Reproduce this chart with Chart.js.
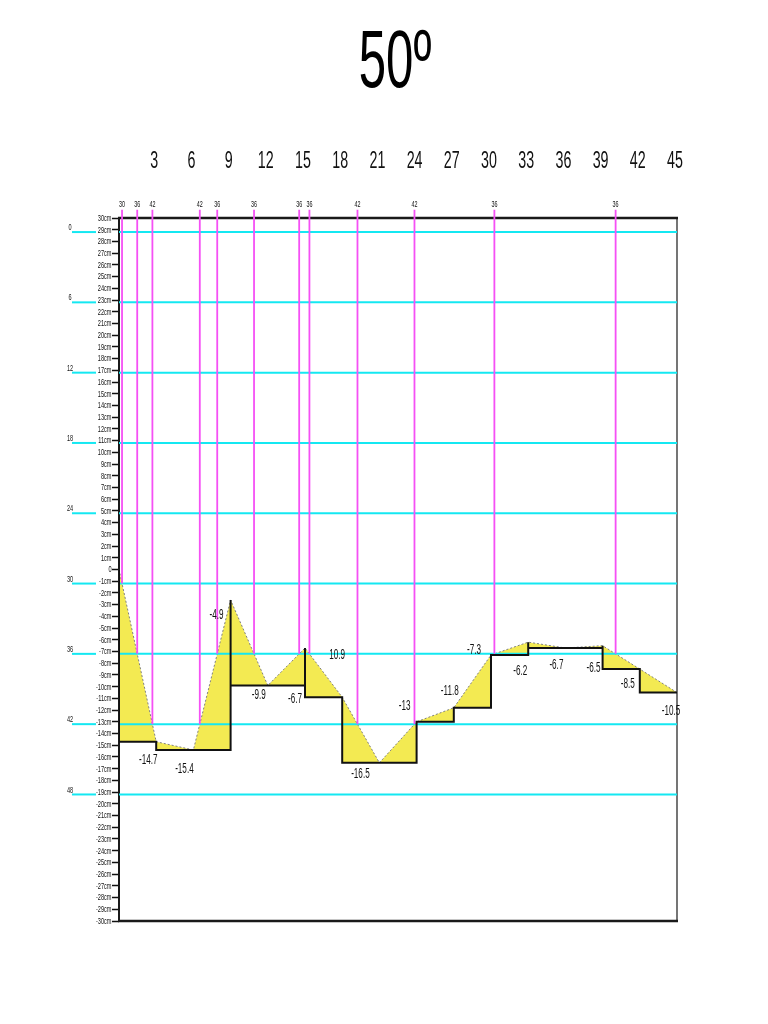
<!DOCTYPE html>
<html><head><meta charset="utf-8">
<script src="https://cdn.jsdelivr.net/npm/chart.js@4/dist/chart.umd.min.js"></script>
<style>html,body{margin:0;padding:0;background:#fff}canvas{display:block}</style>
</head><body>
<canvas id="c" width="768" height="1024"></canvas>
<script>
// ---------- data ----------
const distances = [0, 3, 6, 9, 12, 15, 18, 21, 24, 27, 30, 33, 36, 39, 42, 45];
const heights = [0, -14.7, -15.4, -2.6, -9.9, -6.7, -10.9, -16.5, -13, -11.8, -7.3, -6.2, -6.7, -6.5, -8.5, -10.5];
const valueLabels = ['-14.7', '-15.4', '-4.9', '-9.9', '-6.7', '10.9', '-16.5', '-13', '-11.8', '-7.3', '-6.2', '-6.7', '-6.5', '-8.5', '-10.5'];
const topTickLabels = ['3', '6', '9', '12', '15', '18', '21', '24', '27', '30', '33', '36', '39', '42', '45'];
const depthLevels = [0, 6, 12, 18, 24, 30, 36, 42, 48];
const depthZeroCm = 28.8;
const cmMin = -30, cmMax = 30;
const titleText = '50º';

// ---------- style ----------
const labelOffsets = [[-8, 18], [-9, 19], [-14, 15], [-9, 10], [-10, 51], [-5, -42], [-19, 11], [-12, -16], [-4, -17], [-17, -5], [-8, 29], [-9, 17], [-9, 22], [-12, 15], [-6, 19]];
const YELLOW = 'rgb(243,234,82)';
const CYAN = 'rgb(20,232,242)';
const MAGENTA = 'rgb(245,80,245)';
const FONT = '"Liberation Sans", Arial, sans-serif';
const magentaTopCm = 30.7;

// ---------- derived geometry (from data) ----------
const segLevels = heights.map((v, i) => i === 0 ? v : Math.min(heights[i - 1], v));
const outline = [{x: distances[0], y: heights[0]}];
for (let i = 1; i < distances.length; i++) {
  outline.push({x: distances[i - 1], y: segLevels[i]});
  outline.push({x: distances[i], y: segLevels[i]});
  outline.push({x: distances[i], y: heights[i]});
}
const crossings = [];
for (let i = 1; i < heights.length; i++) {
  const a = heights[i - 1], b = heights[i];
  depthLevels.forEach(d => {
    const lv = depthZeroCm - d;
    if ((a - lv) * (b - lv) < 0) {
      const t = (a - lv) / (a - b);
      crossings.push({x: distances[i - 1] + t * (distances[i] - distances[i - 1]), y: lv, d});
    }
  });
}

const datasets = [];
datasets.push({
  label: 'slope', data: distances.map((x, i) => ({x, y: heights[i]})),
  borderColor: '#808080', borderWidth: 1, borderDash: [2, 2],
  backgroundColor: YELLOW, fill: 1, order: 5, pointRadius: 0, tension: 0
});
datasets.push({
  label: 'steps', data: outline, borderColor: '#111', borderWidth: 2,
  fill: false, order: 0, pointRadius: 0, tension: 0
});
depthLevels.forEach(d => datasets.push({
  label: 'depth ' + d, data: [{x: distances[0], y: depthZeroCm - d}, {x: distances[distances.length - 1], y: depthZeroCm - d}],
  borderColor: CYAN, borderWidth: 2, fill: false, order: 2, pointRadius: 0
}));
crossings.forEach(c => datasets.push({
  label: 'cross ' + c.d, data: [{x: c.x, y: magentaTopCm}, {x: c.x, y: c.y}],
  borderColor: MAGENTA, borderWidth: 1.8, fill: false, order: 1, pointRadius: 0, clip: false
}));

function condText(ctx, text, x, y, size, sx, align, baseline, color) {
  ctx.save();
  ctx.font = size + 'px ' + FONT;
  ctx.fillStyle = color || '#111';
  ctx.textAlign = align; ctx.textBaseline = baseline;
  ctx.translate(x, y); ctx.scale(sx, 1);
  ctx.fillText(text, 0, 0);
  ctx.restore();
}
function seg(ctx, x1, y1, x2, y2) { ctx.beginPath(); ctx.moveTo(x1, y1); ctx.lineTo(x2, y2); ctx.stroke(); }

const decor = {
  id: 'decor',
  beforeDatasetsDraw(chart) {
    const {ctx, chartArea: a} = chart;
    ctx.save();
    ctx.strokeStyle = '#1a1a1a';
    ctx.lineWidth = 2.5;
    seg(ctx, a.left - 1, a.top, a.right + 1, a.top);
    seg(ctx, a.left - 1, a.bottom, a.right + 1, a.bottom);
    ctx.lineWidth = 2;
    seg(ctx, a.left, a.top, a.left, a.bottom);
    ctx.lineWidth = 1.2;
    seg(ctx, a.right, a.top, a.right, a.bottom);
    ctx.restore();
  },
  afterDraw(chart) {
    const {ctx, chartArea: a, scales: {x, y}} = chart;
    // title
    condText(ctx, titleText, 395, 87, 82, 0.6, 'center', 'alphabetic', '#000');
    // top distance labels
    topTickLabels.forEach((t, i) => {
      condText(ctx, t, x.getPixelForValue(distances[i + 1]) - 2, 168, 23, 0.62, 'center', 'alphabetic', '#111');
    });
    // y tick labels
    y.ticks.forEach((tk, i) => {
      const v = tk.value;
      const lab = v === 0 ? '0' : v + 'cm';
      condText(ctx, lab, a.left - 7.5, y.getPixelForTick(i) + 0.5, 8.5, 0.66, 'right', 'middle', '#111');
    });
    // depth labels + short cyan markers
    ctx.save();
    ctx.strokeStyle = CYAN; ctx.lineWidth = 2;
    depthLevels.forEach(d => {
      const py = y.getPixelForValue(depthZeroCm - d);
      seg(ctx, 72, py, 96, py);
      condText(ctx, String(d), 70, py, 8.5, 0.65, 'center', 'bottom', '#111');
    });
    ctx.restore();
    // crossing labels
    crossings.forEach(c => {
      condText(ctx, String(c.d), x.getPixelForValue(c.x), y.getPixelForValue(magentaTopCm) - 0.5, 9, 0.6, 'center', 'bottom', '#111');
    });
    // value labels
    valueLabels.forEach((t, i) => {
      const px = x.getPixelForValue(distances[i + 1]) + labelOffsets[i][0];
      const py = y.getPixelForValue(heights[i + 1]) + labelOffsets[i][1];
      condText(ctx, t, px, py, 14, 0.58, 'center', 'middle', '#111');
    });
  }
};

new Chart(document.getElementById('c'), {
  type: 'line',
  data: {datasets},
  options: {
    responsive: false, animation: false, devicePixelRatio: 1,
    layout: {padding: {left: 112, right: 91, top: 218, bottom: 103}},
    plugins: {legend: {display: false}, tooltip: {enabled: false}, title: {display: false}},
    scales: {
      x: {type: 'linear', min: distances[0], max: distances[distances.length - 1], display: false},
      y: {
        type: 'linear', min: cmMin, max: cmMax,
        ticks: {stepSize: 1, autoSkip: false, display: false},
        grid: {drawOnChartArea: false, drawTicks: true, tickLength: 7, tickColor: '#111', tickWidth: 1.5},
        border: {display: false},
        afterFit(s) { s.width = 7; }
      }
    }
  },
  plugins: [decor]
});
</script>
</body></html>
